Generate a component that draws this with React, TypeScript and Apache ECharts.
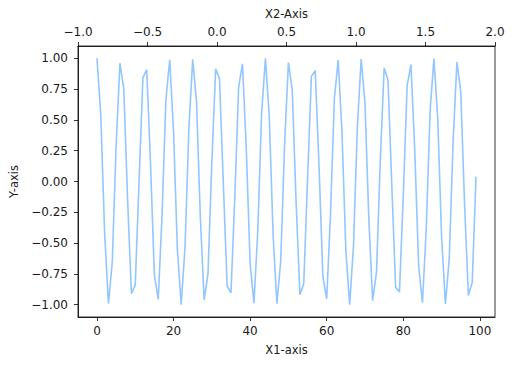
import React, { useEffect, useRef } from "react";
import * as echarts from "echarts";

const xValues: number[] = Array.from({ length: 100 }, (_, i) => i);
const yValues: number[] = [
  1.0, 0.5403, -0.4161, -0.99, -0.6536, 0.2837, 0.9602, 0.7539, -0.1455, -0.9111,
  -0.8391, 0.0044, 0.8439, 0.9074, 0.1367, -0.7597, -0.9577, -0.2752, 0.6603, 0.9887,
  0.4081, -0.5477, -1.0, -0.5328, 0.4242, 0.9912, 0.6469, -0.2921, -0.9626, -0.7481,
  0.1543, 0.9147, 0.8342, -0.0133, -0.8486, -0.9037, -0.128, 0.7654, 0.9551, 0.2666,
  -0.6669, -0.9873, -0.3999, 0.5551, 0.9998, 0.5253, -0.4322, -0.9923, -0.6401, 0.3006,
  0.965, 0.7422, -0.163, -0.9183, -0.8293, 0.0221, 0.8532, 0.8999, 0.1192, -0.771,
  -0.9524, -0.2581, 0.6735, 0.9859, 0.3918, -0.5624, -0.9994, -0.5178, 0.4401, 0.9934,
  0.6333, -0.309, -0.9672, -0.7362, 0.1717, 0.9218, 0.8243, -0.031, -0.8578, -0.896,
  -0.1104, 0.7767, 0.9496, 0.2495, -0.68, -0.9844, -0.3837, 0.5698, 0.9986, 0.5102,
  -0.4481, -0.9945, -0.6264, 0.3174, 0.9694, 0.7302, -0.1804, -0.9252, -0.8193, 0.0398,
];
const x1Ticks: number[] = [0, 20, 40, 60, 80, 100];
const yTicks: number[] = [-1.0, -0.75, -0.5, -0.25, 0.0, 0.25, 0.5, 0.75, 1.0];

const fmt = (v: number, d: number) => {
  const s = Math.abs(v).toFixed(d);
  return v < -1e-9 ? "\u2212" + s : s;
};

const textStyle = { color: "#1a1a1a", fontSize: 12, fontFamily: "DejaVu Sans" };
const nameStyle = { color: "#1a1a1a", fontSize: 11.5, fontFamily: "DejaVu Sans" };

export default function App() {
  const ref = useRef<HTMLDivElement>(null);
  useEffect(() => {
    if (!ref.current) return;
    const chart = echarts.init(ref.current, undefined, { renderer: "svg" });
    chart.setOption({
      animation: false,
      grid: {
        left: 78,
        right: 34,
        top: 46,
        bottom: 48,
        show: true,
        borderColor: "#000",
        borderWidth: 0.8,
        backgroundColor: "transparent",
      },
      xAxis: [
        {
          type: "value",
          position: "bottom",
          min: -4.95,
          max: 103.95,
          name: "X1-axis",
          nameLocation: "middle",
          nameGap: 27,
          nameTextStyle: nameStyle,
          axisLine: { show: true, onZero: false, lineStyle: { color: "#000", width: 0.8 } },
          axisTick: { show: true, length: 4, inside: false, customValues: x1Ticks, lineStyle: { color: "#000", width: 0.8 } },
          axisLabel: { ...textStyle, margin: 8, customValues: x1Ticks, formatter: (v: number) => fmt(v, 0) },
          splitLine: { show: false },
        },
        {
          type: "value",
          position: "top",
          min: -1,
          max: 2,
          interval: 0.5,
          name: "X2-Axis",
          nameLocation: "middle",
          nameGap: 26,
          nameTextStyle: nameStyle,
          axisLine: { show: true, onZero: false, lineStyle: { color: "#000", width: 0.8 } },
          axisTick: { show: true, length: 4, inside: false, lineStyle: { color: "#000", width: 0.8 } },
          axisLabel: { ...textStyle, margin: 8, formatter: (v: number) => fmt(v, 1) },
          splitLine: { show: false },
        },
      ],
      yAxis: {
        type: "value",
        min: -1.1,
        max: 1.1,
        name: "Y-axis",
        nameLocation: "middle",
        nameGap: 56,
        nameTextStyle: nameStyle,
        axisLine: { show: true, onZero: false, lineStyle: { color: "#000", width: 0.8 } },
        axisTick: { show: true, length: 4, inside: false, customValues: yTicks, lineStyle: { color: "#000", width: 0.8 } },
        axisLabel: { ...textStyle, margin: 10, customValues: yTicks, formatter: (v: number) => fmt(v, 2) },
        splitLine: { show: false },
      },
      series: [
        {
          type: "line",
          xAxisIndex: 0,
          data: xValues.map((x, i) => [x, yValues[i]]),
          showSymbol: false,
          lineStyle: { color: "#92C6FF", width: 1.6 },
          itemStyle: { color: "#92C6FF" },
        },
      ],
    });
    return () => chart.dispose();
  }, []);
  return (
    <div
      ref={ref}
      style={{ position: "fixed", left: 0, top: 0, width: 529, height: 365, background: "#fff" }}
    />
  );
}
